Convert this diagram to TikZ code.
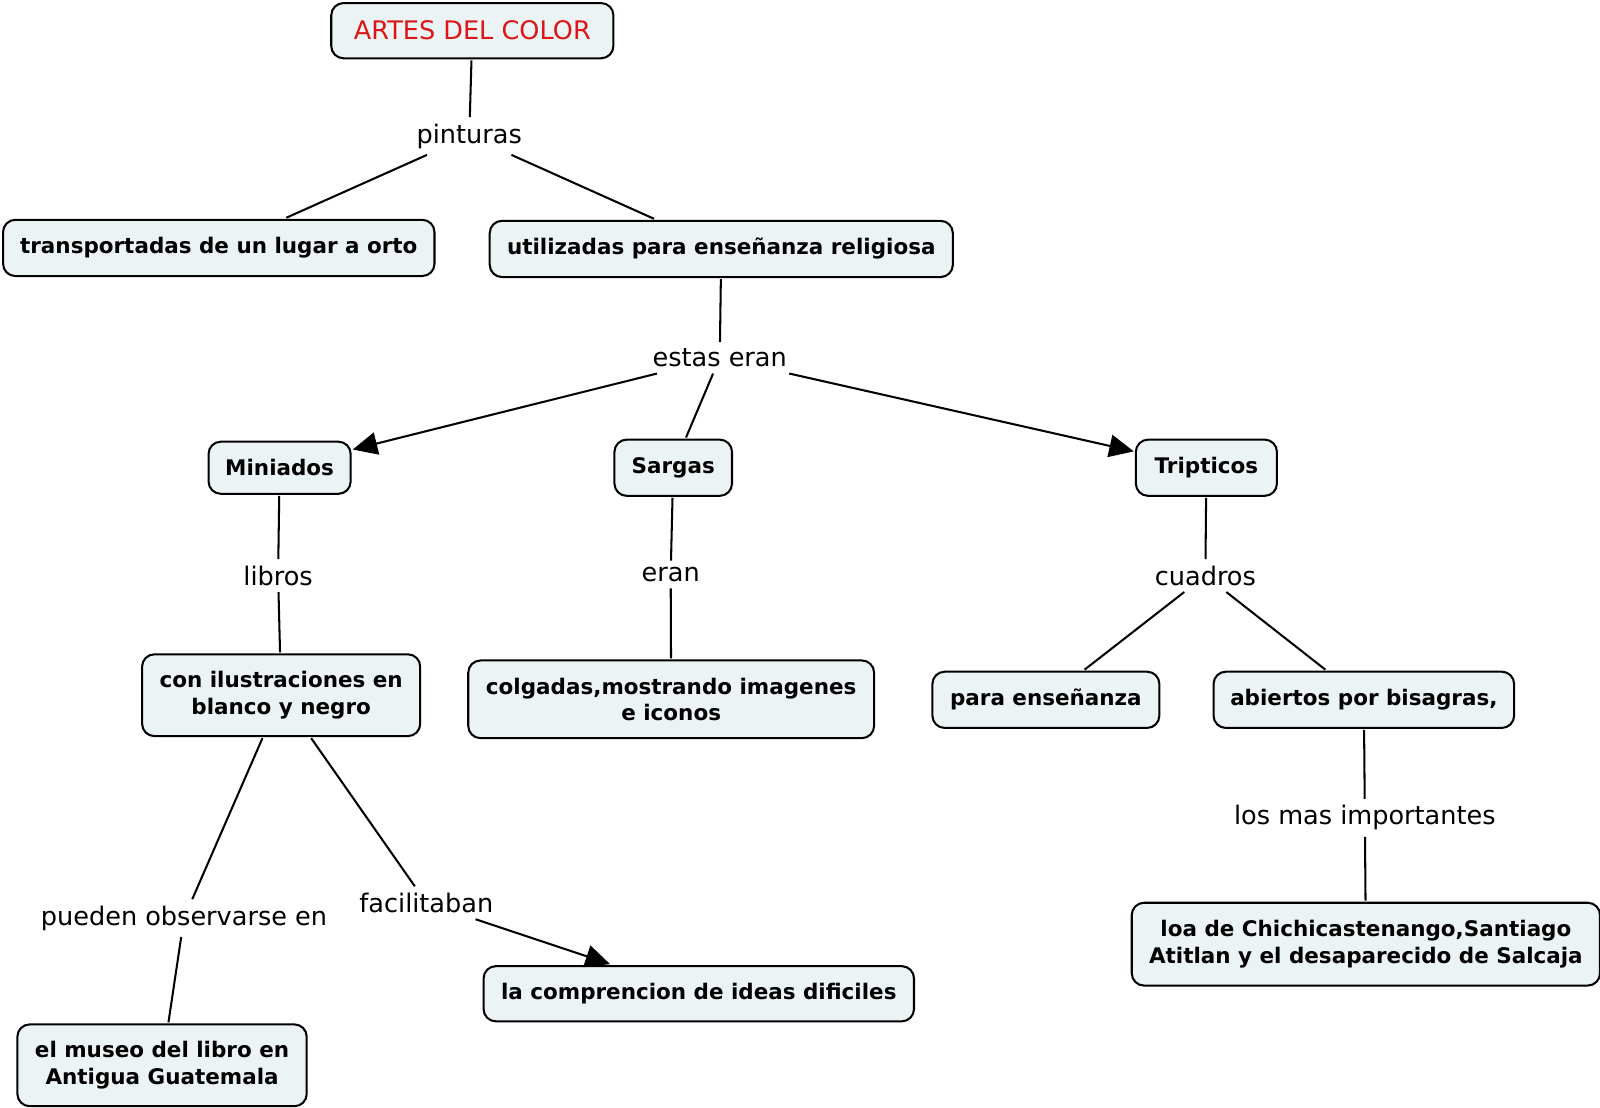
\documentclass[tikz,border=0pt]{standalone}
\usepackage{fontspec}
\setmainfont{DejaVu Sans}
\usetikzlibrary{arrows.meta}
\definecolor{boxfill}{RGB}{236,243,245}
\definecolor{titlered}{RGB}{220,22,22}
\tikzset{
  cbox/.style={draw=black, line width=1pt, rounded corners=6pt, fill=boxfill,
    inner sep=0pt, outer sep=1pt, align=center,
    font=\fontsize{10.5}{13}\selectfont\bfseries},
  lbl/.style={inner sep=3pt, align=center, font=\fontsize{12.5}{15}\selectfont},
  conn/.style={draw=black, line width=1pt},
  arr/.style={conn, -{Triangle[length=12pt,width=11pt]}}
}
\begin{document}
\begin{tikzpicture}[x=0.5pt,y=-0.5pt]
\fill[white] (0,0) rectangle (1565,1082.8);
\useasboundingbox (0,0) rectangle (1565,1082.8);
% boxes
\node[cbox, minimum width=138pt, minimum height=27pt, text=titlered, font=\fontsize{12.5}{15}\selectfont] (artes) at (462,30) {ARTES DEL COLOR};
\node[cbox, minimum width=211pt, minimum height=27.5pt] (trans) at (214,242.5) {transportadas de un lugar a orto};
\node[cbox, minimum width=226.5pt, minimum height=27.5pt] (util) at (705.5,243.5) {utilizadas para enseñanza religiosa};
\node[cbox, minimum width=69.5pt, minimum height=25.5pt] (mini) at (273.5,457.5) {Miniados};
\node[cbox, minimum width=57.5pt, minimum height=27.5pt] (sarg) at (658.5,457.5) {Sargas};
\node[cbox, minimum width=69pt, minimum height=27.5pt] (trip) at (1180,457.5) {Tripticos};
\node[cbox, minimum width=136pt, minimum height=40pt] (conil) at (275,680) {con ilustraciones en\\blanco y negro};
\node[cbox, minimum width=198.5pt, minimum height=38pt] (colg) at (656.5,684) {colgadas,mostrando imagenes\\e iconos};
\node[cbox, minimum width=111pt, minimum height=27.5pt] (para) at (1023,684.5) {para enseñanza};
\node[cbox, minimum width=147pt, minimum height=27.5pt] (abie) at (1334,684.5) {abiertos por bisagras,};
\node[cbox, minimum width=229pt, minimum height=40.5pt] (loa) at (1336,923.5) {loa de Chichicastenango,Santiago\\Atitlan y el desaparecido de Salcaja};
\node[cbox, minimum width=210.5pt, minimum height=27pt] (comp) at (683.5,972) {la comprencion de ideas dificiles};
\node[cbox, minimum width=141.5pt, minimum height=40pt] (museo) at (158.5,1042) {el museo del libro en\\Antigua Guatemala};
% labels
\node[lbl] (pint) at (459,133) {pinturas};
\node[lbl] (estas) at (704,350) {estas eran};
\node[lbl] (libros) at (272,563) {libros};
\node[lbl] (eran) at (656,562) {eran};
\node[lbl] (cuad) at (1179,563) {cuadros};
\node[lbl] (losmas) at (1335,800) {los mas importantes};
\node[lbl] (pueden) at (180,898) {pueden observarse en};
\node[lbl] (facil) at (417,883) {facilitaban};
% connectors
\draw[conn] (artes) -- (pint);
\draw[conn] (pint) -- (trans);
\draw[conn] (pint) -- (util);
\draw[conn] (util) -- (estas);
\draw[arr] (estas) -- (mini);
\draw[conn] (estas) -- (sarg);
\draw[arr] (estas) -- (trip);
\draw[conn] (mini) -- (libros);
\draw[conn] (libros) -- (conil);
\draw[conn] (sarg) -- (eran);
\draw[conn] (eran) -- (colg);
\draw[conn] (trip) -- (cuad);
\draw[conn] (cuad) -- (para);
\draw[conn] (cuad) -- (abie);
\draw[conn] (abie) -- (losmas);
\draw[conn] (losmas) -- (loa);
\draw[conn] (conil) -- (pueden);
\draw[conn] (pueden) -- (museo);
\draw[conn] (conil) -- (facil);
\draw[arr] (facil) -- (comp);
\end{tikzpicture}
\end{document}
